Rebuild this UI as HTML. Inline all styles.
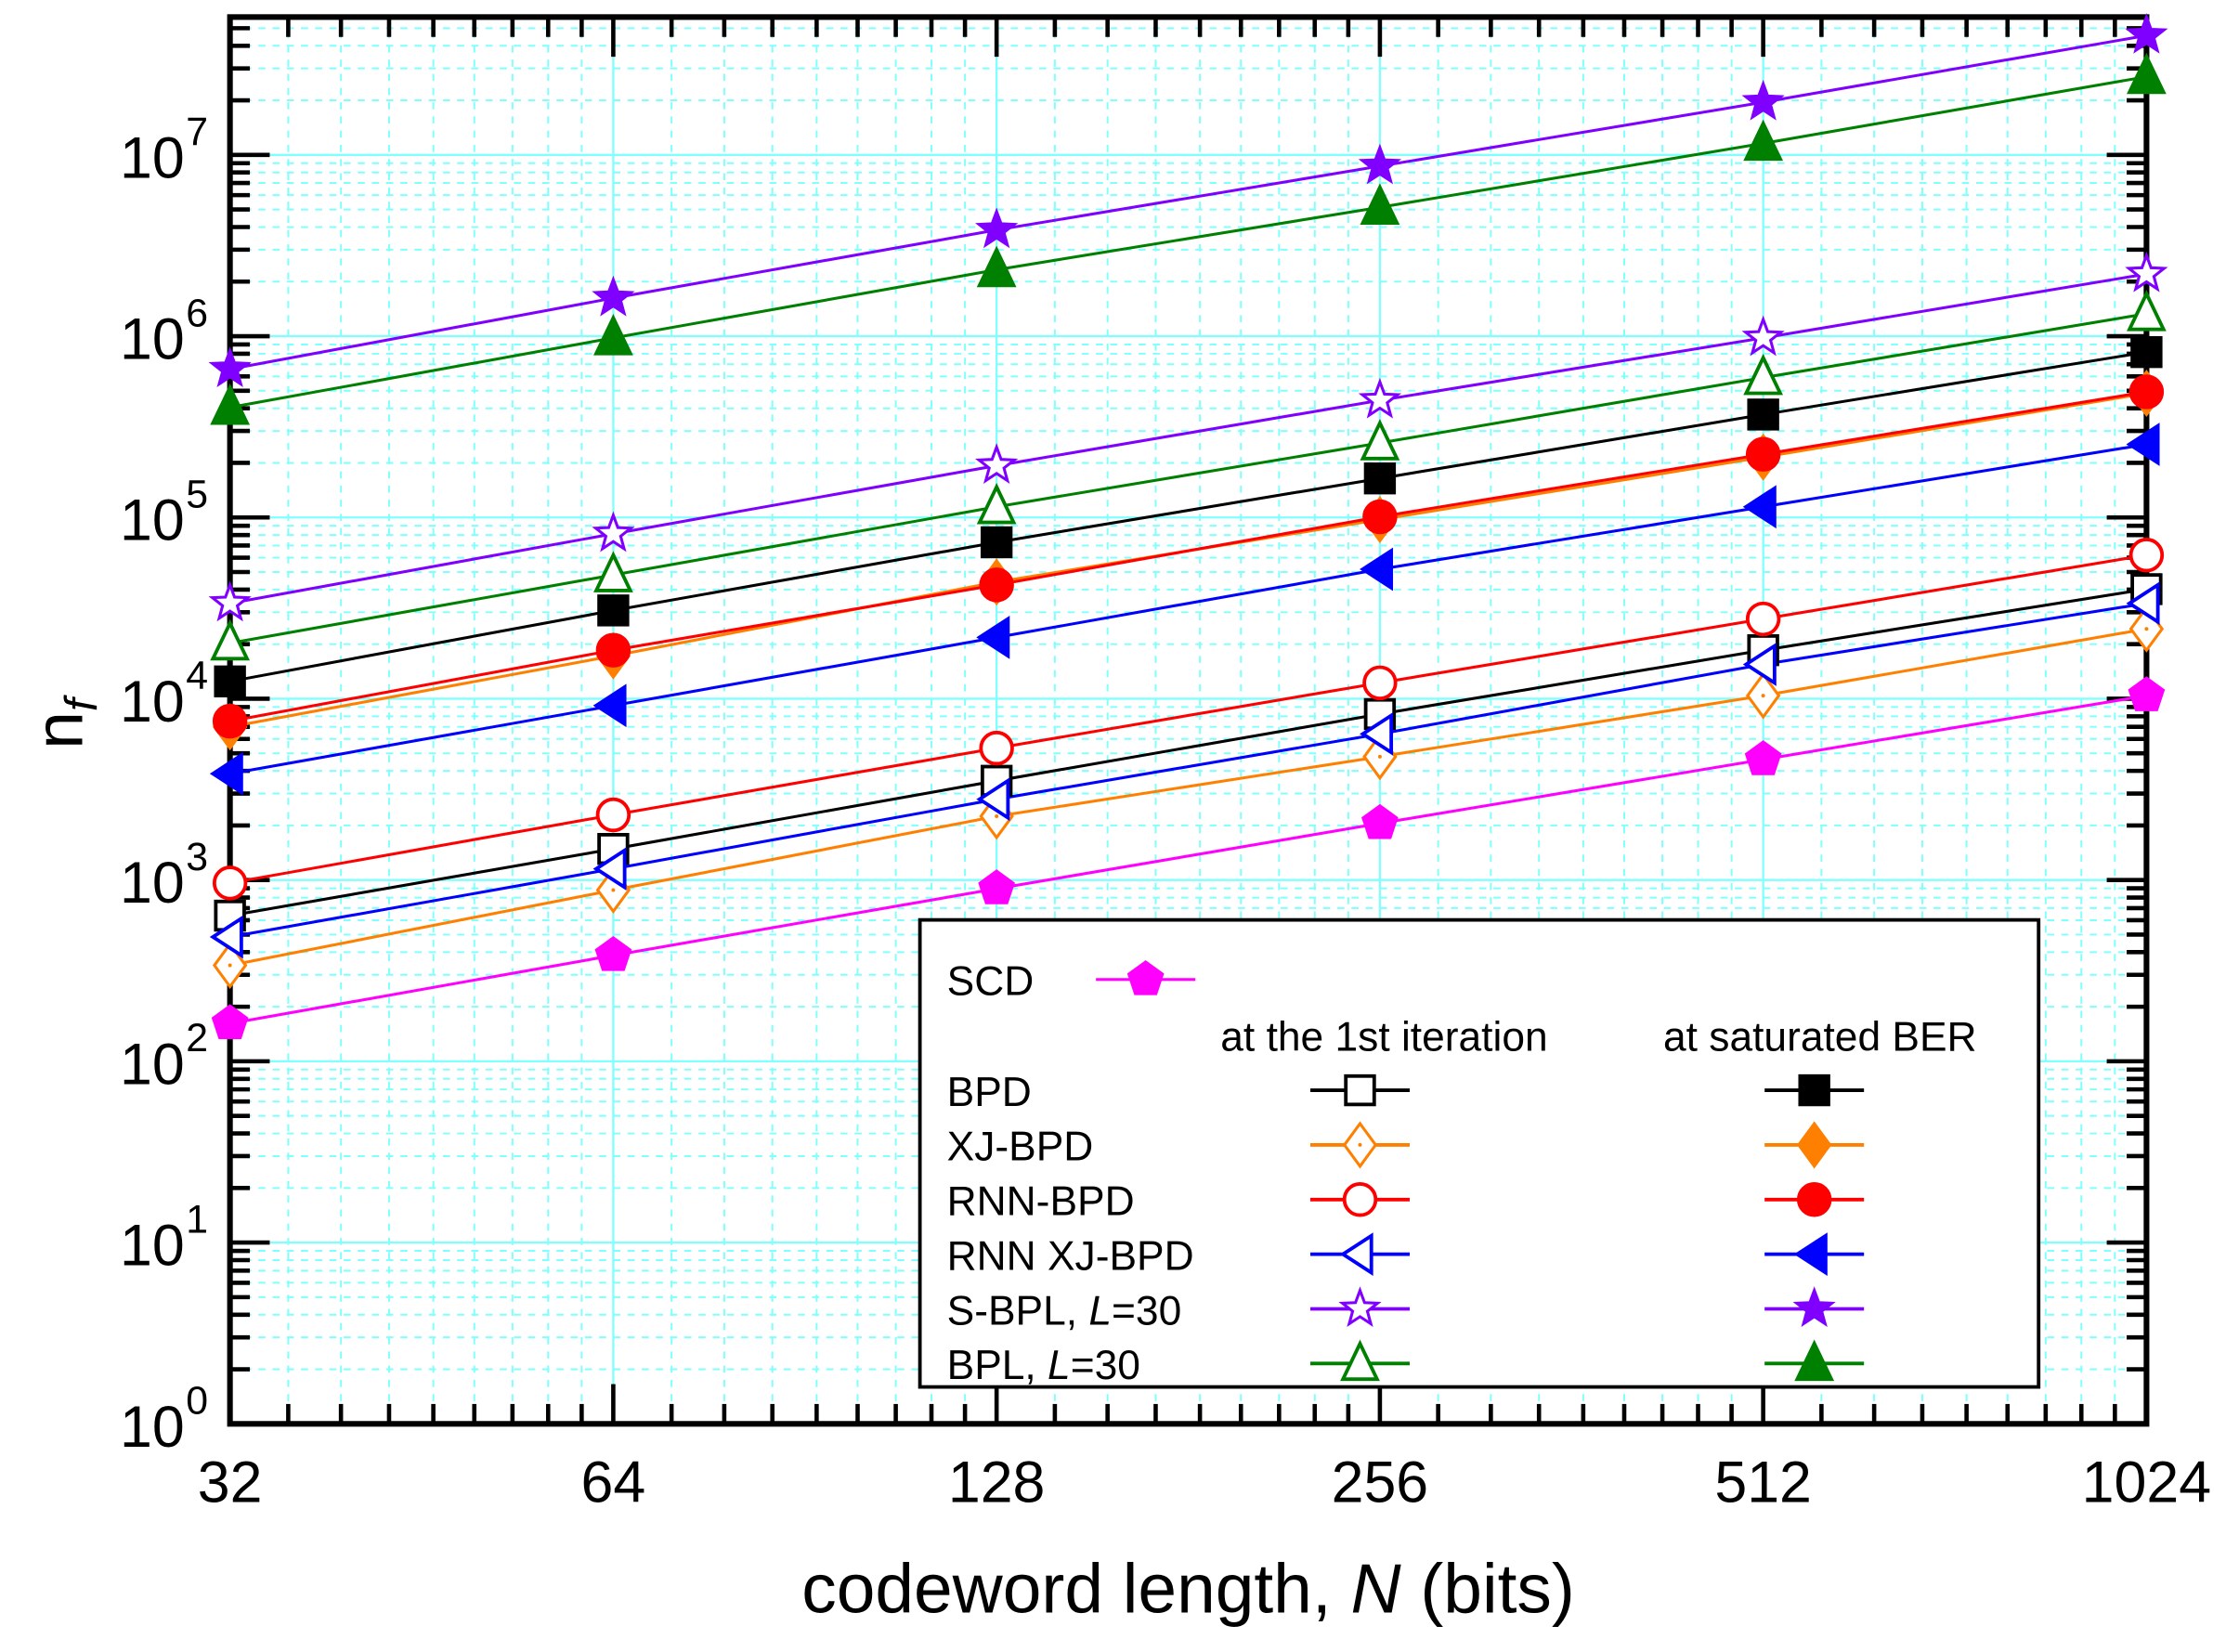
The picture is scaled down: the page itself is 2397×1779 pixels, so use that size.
<!DOCTYPE html>
<html><head><meta charset="utf-8"><style>html,body{margin:0;padding:0;background:#fff}svg{display:block}</style></head>
<body>
<svg id="s" xmlns="http://www.w3.org/2000/svg" width="2397" height="1779" viewBox="0 0 1568 1163.7" font-family="Liberation Sans, Arial, sans-serif"></svg>
<script>
const s=document.getElementById('s');let h='';
const L=162,R=1512,T=12,B=1003;
const X=n=>L+270*Math.log2(n/32);
const Y=v=>1003-127.7*Math.log10(v);
for(let o=0;o<5;o++){for(let k=1;k<9;k++){const x=X(32*Math.pow(2,o)*(1+k/9));h+=`<line x1="${x}" y1="${T}" x2="${x}" y2="${B}" stroke="#80ffff" stroke-width="1.3" stroke-dasharray="5,5"/>`;}}
for(let d=0;d<8;d++){for(let m=2;m<10;m++){const y=Y(m*Math.pow(10,d));if(y<T)continue;h+=`<line x1="${L}" y1="${y}" x2="${R}" y2="${y}" stroke="#80ffff" stroke-width="1.3" stroke-dasharray="5,5"/>`;}}
for(let o=1;o<5;o++){const x=X(32*Math.pow(2,o));h+=`<line x1="${x}" y1="${T}" x2="${x}" y2="${B}" stroke="#80ffff" stroke-width="1.5"/>`;}
for(let d=1;d<8;d++){const y=Y(Math.pow(10,d));h+=`<line x1="${L}" y1="${y}" x2="${R}" y2="${y}" stroke="#80ffff" stroke-width="1.5"/>`;}
for(let o=0;o<5;o++){for(let k=1;k<9;k++){const x=X(32*Math.pow(2,o)*(1+k/9));h+=`<line x1="${x}" y1="${B}" x2="${x}" y2="${B-14}" stroke="#000" stroke-width="3"/><line x1="${x}" y1="${T}" x2="${x}" y2="${T+14}" stroke="#000" stroke-width="3"/>`;}}
for(let o=1;o<5;o++){const x=X(32*Math.pow(2,o));h+=`<line x1="${x}" y1="${B}" x2="${x}" y2="${B-28}" stroke="#000" stroke-width="3"/><line x1="${x}" y1="${T}" x2="${x}" y2="${T+28}" stroke="#000" stroke-width="3"/>`;}
for(let d=0;d<8;d++){for(let m=1;m<10;m++){const y=Y(m*Math.pow(10,d));if(y<T||y>B)continue;const len=m==1?28:14;h+=`<line x1="${L}" y1="${y}" x2="${L+len}" y2="${y}" stroke="#000" stroke-width="3"/><line x1="${R}" y1="${y}" x2="${R-len}" y2="${y}" stroke="#000" stroke-width="3"/>`;}}
h+=`<rect x="${L}" y="${T}" width="${R-L}" height="${B-T}" fill="none" stroke="#000" stroke-width="4"/>`;
[32,64,128,256,512,1024].forEach(n=>{h+=`<text x="${X(n)}" y="1058" font-size="41" text-anchor="middle">${n}</text>`;});
for(let d=0;d<8;d++){const y=Y(Math.pow(10,d));h+=`<text x="130" y="${y+16}" font-size="41" text-anchor="end">10</text><text x="131" y="${y-7}" font-size="28">${d}</text>`;}
h+=`<text x="837" y="1136" font-size="49" text-anchor="middle">codeword length, <tspan font-style="italic">N</tspan> (bits)</text>`;
h+=`<text transform="translate(58,510) rotate(-90)" font-size="48" text-anchor="middle">n<tspan font-size="32" font-style="italic" dy="10">f</tspan></text>`;
function mk(t,x,y,c,f){const fill=f?c:'#fff';let m='';
 switch(t){
 case 'sq':m=`<rect x="${x-10}" y="${y-10}" width="20" height="20" fill="${fill}" stroke="${c}" stroke-width="2.5"/>`;break;
 case 'di':m=`<polygon points="${x},${y-15} ${x+11},${y} ${x},${y+15} ${x-11},${y}" fill="${fill}" stroke="${c}" stroke-width="2"/>`+(f?'':`<circle cx="${x}" cy="${y}" r="1.3" fill="${c}"/>`);break;
 case 'ci':m=`<circle cx="${x}" cy="${y}" r="11" fill="${fill}" stroke="${c}" stroke-width="2.5"/>`;break;
 case 'tl':m=`<polygon points="${x-12},${y} ${x+8},${y-13} ${x+8},${y+13}" fill="${fill}" stroke="${c}" stroke-width="2.5"/>`;break;
 case 'st':{let p=[];for(let i=0;i<10;i++){const a=-Math.PI/2+i*Math.PI/5,rr=i%2?5.5:13;p.push((x+rr*Math.cos(a)).toFixed(1)+','+(y+rr*Math.sin(a)).toFixed(1));}m=`<polygon points="${p.join(' ')}" fill="${fill}" stroke="${c}" stroke-width="2"/>`;break;}
 case 'tu':m=`<polygon points="${x},${y-14} ${x+12},${y+11} ${x-12},${y+11}" fill="${fill}" stroke="${c}" stroke-width="2.5"/>`;break;
 case 'pe':{let p=[];for(let i=0;i<5;i++){const a=-Math.PI/2+i*2*Math.PI/5;p.push((x+13*Math.cos(a)).toFixed(1)+','+(y+13*Math.sin(a)).toFixed(1));}m=`<polygon points="${p.join(' ')}" fill="${c}" stroke="${c}" stroke-width="1"/>`;break;}
 }return m;}
const ser=[
['pe','#ff00ff',1,[721,673,626,580,535,490]],
['sq','#000',0,[645,598,550,503,458,415]],
['di','#ff8000',0,[680,627,575,533,490,443]],
['ci','#ff0000',0,[622,574,527,481,436,391]],
['tl','#0000ff',0,[660,612,563,517,468,425]],
['st','#8000ff',0,[425,376,328,282,238,193]],
['tu','#008000',0,[453,405,357,312,266,221]],
['sq','#000',1,[480,430,382,337,292,248]],
['di','#ff8000',1,[512,462,410,366,322,277]],
['ci','#ff0000',1,[508,458,412,364,320,276]],
['tl','#0000ff',1,[545,497,449,401,357,313]],
['st','#8000ff',1,[260,210,162,117,72,25]],
['tu','#008000',1,[287,238,190,146,101,54]]];
const xs=[32,64,128,256,512,1024].map(X);
ser.forEach(([t,c,f,ys])=>{h+=`<polyline points="${ys.map((y,i)=>xs[i]+','+y).join(' ')}" fill="none" stroke="${c}" stroke-width="2"/>`;});
ser.forEach(([t,c,f,ys])=>{ys.forEach((y,i)=>{h+=mk(t,xs[i],y,c,f);});});
h+=`<rect x="648" y="648" width="788" height="329" fill="#fff" stroke="#000" stroke-width="2.5"/>`;
const fs=29;
h+=`<text x="667" y="701" font-size="${fs}">SCD</text><line x1="772" y1="690" x2="842" y2="690" stroke="#ff00ff" stroke-width="2"/>`+mk('pe',807,690,'#ff00ff',1);
h+=`<text x="975" y="740" font-size="${fs}" text-anchor="middle">at the 1st iteration</text><text x="1282" y="740" font-size="${fs}" text-anchor="middle">at saturated BER</text>`;
const lg=[['BPD','sq','#000'],['XJ-BPD','di','#ff8000'],['RNN-BPD','ci','#ff0000'],['RNN XJ-BPD','tl','#0000ff'],['S-BPL, <tspan font-style="italic">L</tspan>=30','st','#8000ff'],['BPL, <tspan font-style="italic">L</tspan>=30','tu','#008000']];
lg.forEach(([n,t,c],i)=>{const y=768+i*38.5;h+=`<text x="667" y="${y+11}" font-size="${fs}">${n}</text>`;
[[958,0],[1278,1]].forEach(([x,f])=>{h+=`<line x1="${x-35}" y1="${y}" x2="${x+35}" y2="${y}" stroke="${c}" stroke-width="2.5"/>`+mk(t,x,y,c,f);});});
s.innerHTML=h;
</script>
</body></html>
